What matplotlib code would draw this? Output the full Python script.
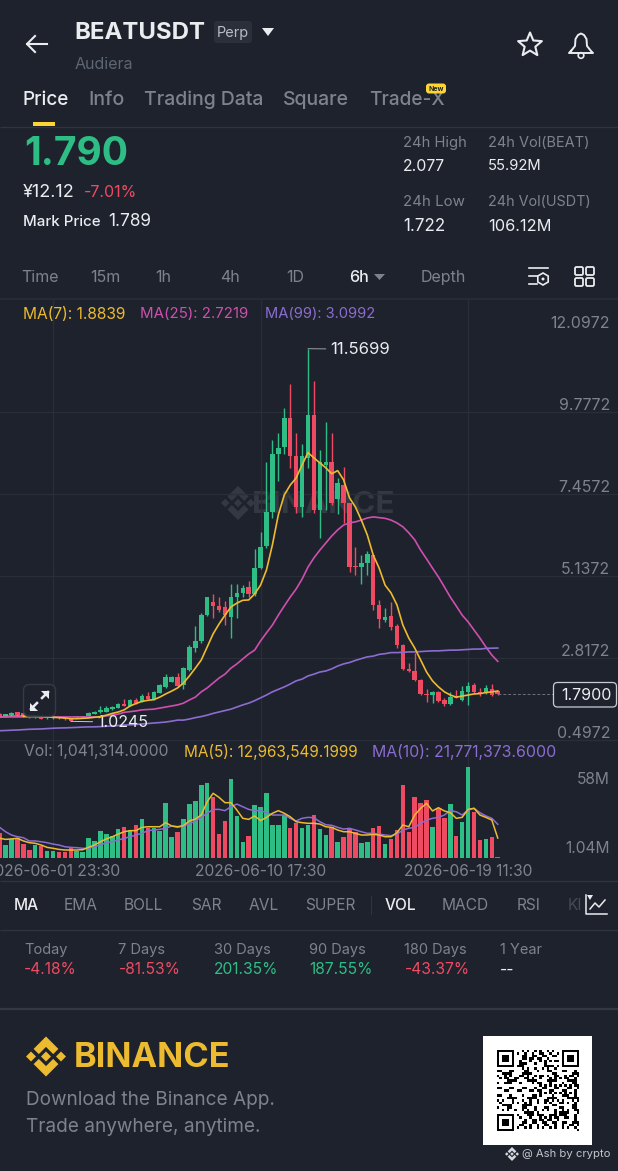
import numpy as np
import matplotlib
matplotlib.use("Agg")
import matplotlib.pyplot as plt
from matplotlib.patches import Polygon, Rectangle, FancyBboxPatch, Circle
from matplotlib.ticker import FixedLocator, NullFormatter

plt.rcParams['font.family'] = ['Inter', 'Roboto', 'DejaVu Sans']

# ---------- data (6h candles; index 0 = 2026-06-01 23:30) ----------
candle_index = list(range(-9, 76))
opens = [1.23,1.18,1.20,1.28,1.25,1.17,1.15,1.14,1.12,1.12,1.14,1.13,1.09,1.14,1.15,1.18,1.23,1.28,1.30,1.37,
         1.41,1.52,1.47,1.63,1.60,1.74,1.65,1.84,2.01,2.15,2.27,2.05,2.48,3.09,3.31,4.03,4.39,4.29,4.27,3.99,
         4.54,4.65,4.83,4.63,5.37,5.98,6.96,8.59,8.78,9.60,8.52,7.10,8.47,9.69,7.01,8.28,8.37,7.31,7.71,7.21,
         5.42,5.40,5.50,5.73,4.32,3.89,4.00,3.73,3.19,2.51,2.46,2.20,1.79,1.76,1.86,1.63,1.52,1.74,1.63,1.85,
         2.05,1.86,1.85,1.93,1.88]
closes = [1.19,1.22,1.27,1.20,1.18,1.14,1.18,1.10,1.14,1.15,1.11,1.09,1.04,1.17,1.18,1.27,1.30,1.35,1.39,1.42,
          1.51,1.47,1.63,1.54,1.74,1.65,1.86,2.05,2.27,2.29,2.03,2.53,3.12,3.31,4.03,4.54,4.29,4.18,4.03,4.54,
          4.67,4.79,4.63,5.36,5.95,6.96,8.59,8.77,9.60,8.52,7.10,8.52,9.69,7.01,8.37,8.37,7.20,7.76,7.21,5.40,
          5.38,5.50,5.75,4.32,3.91,3.99,3.70,3.19,2.51,2.45,2.20,1.79,1.76,1.86,1.61,1.52,1.71,1.69,1.88,2.03,
          1.85,1.80,1.98,1.77,1.79]
highs = [1.26,1.24,1.29,1.30,1.27,1.19,1.20,1.15,1.16,1.17,1.15,1.15,1.11,1.18,1.19,1.28,1.31,1.46,1.45,1.47,
         1.54,1.65,1.66,1.69,1.80,1.86,1.88,2.08,2.36,2.31,2.40,2.57,3.18,3.72,4.08,4.55,4.64,4.55,4.44,4.92,
         4.92,4.89,4.99,5.90,6.39,8.35,8.99,9.19,9.88,10.57,9.19,8.87,11.5699,10.65,8.70,9.50,9.18,7.90,8.23,7.21,
         5.97,5.73,5.85,5.76,4.45,4.22,4.40,3.77,3.21,2.69,2.95,2.22,1.95,1.89,1.87,1.68,1.86,1.91,2.02,2.14,
         2.11,1.96,2.05,2.07,1.92]
lows = [1.17,1.16,1.19,1.19,1.16,1.12,1.13,1.08,1.10,1.10,1.09,1.07,1.0245,1.12,1.13,1.17,1.22,1.27,1.29,1.35,
        1.40,1.46,1.45,1.52,1.58,1.63,1.63,1.82,1.97,2.14,1.99,1.93,2.46,3.00,3.25,4.01,3.95,4.13,3.75,3.38,
        3.95,4.55,4.54,4.58,5.34,5.94,6.77,7.84,8.59,8.19,6.91,6.81,8.19,6.91,6.21,7.01,7.15,6.88,6.64,5.26,
        5.17,4.90,5.16,4.18,3.66,3.85,3.62,3.09,2.49,2.43,2.18,1.77,1.58,1.55,1.58,1.46,1.49,1.68,1.61,1.49,
        1.82,1.74,1.80,1.75,1.77]
ma7 = [1.15,1.16,1.17,1.17,1.17,1.17,1.17,1.16,1.15,1.14,1.13,1.12,1.10,1.10,1.11,1.12,1.14,1.16,1.20,1.25,
       1.29,1.35,1.46,1.53,1.59,1.62,1.64,1.71,1.80,1.88,1.97,2.11,2.31,2.53,2.76,3.13,3.50,3.78,4.03,4.26,
       4.37,4.45,4.46,4.63,4.88,5.31,6.02,6.87,7.43,7.71,7.91,8.28,8.63,8.48,8.34,8.20,8.03,8.12,7.86,7.35,
       7.09,6.72,6.30,5.73,5.36,4.88,4.66,4.32,3.75,3.38,3.10,2.76,2.42,2.17,2.00,1.86,1.77,1.71,1.74,1.77,
       1.80,1.81,1.84,1.86,1.8839]
ma25 = [1.15,1.15,1.15,1.15,1.15,1.15,1.15,1.15,1.15,1.15,1.15,1.15,1.15,1.15,1.15,1.15,1.15,1.15,1.18,1.20,
        1.23,1.28,1.30,1.32,1.35,1.36,1.37,1.40,1.43,1.46,1.49,1.54,1.63,1.71,1.86,1.97,2.11,2.25,2.36,2.53,
        2.65,2.79,2.93,3.04,3.30,3.53,3.75,4.03,4.29,4.54,4.77,5.05,5.39,5.65,5.87,6.07,6.27,6.44,6.58,6.64,
        6.67,6.72,6.78,6.81,6.79,6.77,6.72,6.64,6.53,6.36,6.16,5.87,5.62,5.36,5.11,4.83,4.54,4.29,4.03,3.84,
        3.61,3.38,3.13,2.90,2.7219]
ma99 = [0.76,0.766,0.774,0.78,0.79,0.80,0.805,0.81,0.82,0.83,0.837,0.84,0.848,0.854,0.862,0.868,0.87,0.876,0.887,0.893,
        0.907,0.92,0.927,0.936,0.95,0.964,0.978,0.99,1.006,1.03,1.06,1.06,1.09,1.13,1.16,1.20,1.25,1.29,1.33,1.37,
        1.43,1.49,1.54,1.61,1.69,1.77,1.86,1.93,2.00,2.08,2.17,2.22,2.31,2.36,2.42,2.45,2.51,2.59,2.65,2.69,
        2.75,2.80,2.85,2.87,2.92,2.94,2.97,2.97,2.98,2.99,2.99,3.00,3.01,3.02,3.02,3.03,3.04,3.04,3.05,3.06,
        3.07,3.07,3.09,3.095,3.0992]
volumes = [16.0,8.5,12.1,12.8,9.1,5.3,8.5,7.9,4.9,4.9,4.0,4.0,6.4,4.7,4.2,12.8,11.3,17.5,15.5,14.3,
           18.5,20.2,18.1,21.3,24.9,19.2,19.2,17.2,35.2,13.4,16.8,24.9,34.7,36.4,47.1,48.4,39.4,15.5,23.7,50.5,
           27.1,10.4,14.3,33.9,32.6,41.6,21.3,21.1,27.7,19.6,22.4,19.4,21.1,27.7,18.5,14.9,19.8,10.4,13.8,18.5,
           17.0,10.0,10.6,19.2,20.7,9.4,12.3,18.1,46.9,17.0,39.0,35.6,37.3,20.2,32.0,25.6,34.7,14.3,23.4,58.2,
           29.6,11.7,12.1,13.4,1.04]
vol_ma5 = [12.8,12.1,12.4,12.8,11.1,10.0,9.6,8.5,7.0,6.4,5.7,5.3,5.3,5.3,5.5,7.0,8.5,10.6,12.4,13.8,
           15.5,17.0,17.7,17.7,19.8,20.2,20.2,20.2,22.8,20.7,20.2,20.9,23.9,25.1,27.7,36.2,41.6,39.0,35.6,35.6,
           30.9,25.6,24.9,27.1,24.1,26.2,28.8,30.5,28.8,26.6,23.4,22.8,22.4,22.4,21.9,20.2,19.8,18.1,17.0,17.0,
           15.9,14.9,14.9,15.3,14.9,13.8,13.8,16.4,21.3,20.2,27.7,32.0,35.2,30.3,32.4,30.3,29.2,25.6,26.2,31.3,
           32.0,27.7,26.2,24.5,12.96]
vol_ma10 = [19.8,17.0,14.9,13.8,13.2,11.1,11.1,10.6,10.0,9.1,8.5,7.4,7.0,6.8,6.4,6.4,7.4,8.5,10.0,10.6,
            11.7,12.8,13.8,14.9,16.0,17.7,18.1,18.5,19.2,20.7,19.8,20.7,22.0,23.9,26.2,28.8,31.3,31.3,30.5,33.0,
            34.7,33.0,31.3,30.5,30.5,29.2,27.7,27.7,27.7,25.6,23.9,25.6,26.2,26.0,23.4,21.5,21.1,19.8,18.7,19.2,
            18.1,17.0,16.0,16.0,15.5,14.9,14.5,15.5,18.1,19.2,19.8,22.4,24.5,25.6,26.2,27.7,30.5,29.8,27.7,30.9,
            32.0,29.2,27.1,25.6,21.77]
price_ticks = [12.0972, 9.7772, 7.4572, 5.1372, 2.8172, 0.4972]
date_ticks = [0, 35, 70]
date_labels = ['2026-06-01 23:30', '2026-06-10 17:30', '2026-06-19 11:30']
last_price = 1.79
peak_price = 11.5699
low_price = 1.0245
low_index = 3
peak_index = 43
interval_labels = ['Time', '15m', '1h', '4h', '1D', '6h', 'Depth']
indicator_labels = ['MA', 'EMA', 'BOLL', 'SAR', 'AVL', 'SUPER', 'VOL', 'MACD', 'RSI', 'KI']
period_labels = ['Today', '7 Days', '30 Days', '90 Days', '180 Days', '1 Year']
period_values = ['-4.18%', '-81.53%', '201.35%', '187.55%', '-43.37%', '--']

# ---------- styling ----------
W, H = 618, 1171
BG = '#1E222D'
GRID = '#2a2e39'
SEP = '#2f343e'
GREEN = '#2EBD85'
RED = '#EE4B62'
GRAY = '#7d838d'
WHITE = '#eaecef'
YEL = '#EDBB2F'
MAG = '#CF4FAE'
PUR = '#8C6CD0'

fig = plt.figure(figsize=(W / 100, H / 100), dpi=100, facecolor=BG)


def axes_px(x0, y0, x1, y1, **kw):
    return fig.add_axes([x0 / W, 1 - y1 / H, (x1 - x0) / W, (y1 - y0) / H], **kw)


def pixel_axes(z):
    a = axes_px(0, 0, W, H, zorder=z)
    a.set_xlim(0, W)
    a.set_ylim(H, 0)
    a.axis('off')
    a.patch.set_alpha(0)
    return a


bg = pixel_axes(0)
ui = pixel_axes(5)

X_PER = 5.93
X0 = 53.0
xlim = (-X0 / X_PER, (W - X0) / X_PER)
PX_PER_UNIT = 35.34


def setup(a):
    a.patch.set_alpha(0)
    a.set_xlim(*xlim)
    for s in a.spines.values():
        s.set_visible(False)
    a.tick_params(length=0, labelbottom=False, labelleft=False)
    a.xaxis.set_major_locator(FixedLocator(date_ticks))
    a.xaxis.set_major_formatter(NullFormatter())
    a.grid(axis='x', color=GRID, lw=0.9)
    a.set_axisbelow(True)


# ---------- price panel ----------
ax = axes_px(0, 300, W, 752, zorder=2)
setup(ax)
ax.set_ylim(0.4972 - 12 / PX_PER_UNIT, 0.4972 + 440 / PX_PER_UNIT)
ax.yaxis.set_major_locator(FixedLocator(price_ticks[1:]))
ax.yaxis.set_major_formatter(NullFormatter())
ax.grid(axis='y', color=GRID, lw=0.9)

x = np.array(candle_index)
o, c, h, l = map(np.array, (opens, closes, highs, lows))
col = [GREEN if ci >= oi else RED for oi, ci in zip(o, c)]
ax.vlines(x, l, h, colors=col, lw=1.0, zorder=2)
ax.bar(x, np.maximum(np.abs(c - o), 0.03), bottom=np.minimum(o, c), width=0.76, color=col, zorder=2, linewidth=0)
ax.plot(x[4:], np.array(ma7)[4:], color=YEL, lw=1.2, zorder=4)
ax.plot(x[:5], np.array(ma7)[:5], color=YEL, lw=1.2, zorder=3)
ax.plot(x, ma25, color=MAG, lw=1.2, zorder=3)
ax.plot(x, ma99, color=PUR, lw=1.2, zorder=3)
ax.plot([x[-1], (553 - X0) / X_PER], [last_price, last_price], color='#6b707a', lw=0.7, ls=(0, (3, 2)), zorder=3)

for t in price_ticks:
    ax.annotate(f'{t:.4f}', xy=(1, t), xycoords=('axes fraction', 'data'), xytext=(-8 * 0.72, 7 * 0.72),
                textcoords='offset points', ha='right', va='center', color=GRAY, fontsize=11.4)
ax.annotate(f'{peak_price:.4f}', xy=(peak_index, peak_price), xytext=(22 * 0.72, -0.4), textcoords='offset points',
            ha='left', va='center', color=WHITE, fontsize=12.0,
            arrowprops=dict(arrowstyle='-', color='#9aa0a8', lw=0.7, shrinkA=1, shrinkB=0))
ax.annotate(f'{low_price:.4f}', xy=(low_index, low_price), xytext=(26 * 0.72, -0.6), textcoords='offset points',
            ha='left', va='center', color=WHITE, fontsize=11.5,
            arrowprops=dict(arrowstyle='-', color='#c5c8cc', lw=0.7, shrinkA=1, shrinkB=0))

# ---------- volume panel ----------
PX_M = 0.64
vax = axes_px(0, 752, W, 858.3, zorder=2)
setup(vax)
vax.set_ylim(0, (858.3 - 752) * PX_M)
vax.set_yticks([])
vax.bar(x, volumes, width=0.76, color=col, zorder=2, linewidth=0)
vax.plot(x, vol_ma10, color=PUR, lw=1.1, zorder=3)
vax.plot(x, vol_ma5, color=YEL, lw=1.1, zorder=4)
vax.annotate('58M', xy=(1, 58), xycoords=('axes fraction', 'data'), xytext=(-8 * 0.72, -11.5 * 0.72),
             textcoords='offset points', ha='right', va='center', color=GRAY, fontsize=11.2)
vax.annotate('1.04M', xy=(1, 1.04), xycoords=('axes fraction', 'data'), xytext=(-8 * 0.72, 8 * 0.72),
             textcoords='offset points', ha='right', va='center', color=GRAY, fontsize=11.2)
for t, lab in zip(date_ticks, date_labels):
    vax.annotate(lab, xy=(t, 0), xycoords='data', xytext=(0, -13 * 0.72), textcoords='offset points',
                 ha='center', va='center', color=GRAY, fontsize=11.2, annotation_clip=False)


# ---------- text helpers ----------
def T(xp, yp, s, px, color=GRAY, weight='normal', ha='left', zorder=6, **kw):
    return ui.text(xp, yp + 2.8, s, fontsize=px * 0.72, color=color, fontweight=weight, ha=ha, va='center', zorder=zorder, **kw)


def sep(yp, color=SEP, lw=0.9):
    bg.plot([0, W], [yp, yp], color=color, lw=lw, solid_capstyle='butt')


def logo(a, cx, cy, r, color, z=6):
    cen = [(0, -.25), (.25, 0), (0, .25), (-.25, 0)]
    a.add_patch(Polygon([(cx + p * r, cy + q * r) for p, q in cen], color=color, lw=0, zorder=z))
    for dx in (-.75, .75):
        a.add_patch(Polygon([(cx + (p + dx) * r, cy + q * r) for p, q in cen], color=color, lw=0, zorder=z))
    for sgn in (-1, 1):
        pts = [(0, 1), (.62, .38), (.36, .12), (0, .48), (-.36, .12), (-.62, .38)]
        a.add_patch(Polygon([(cx + p * r, cy + sgn * q * r) for p, q in pts], color=color, lw=0, zorder=z))


# ---------- header ----------
sep(126.5)
sep(298.5, '#2a2e39', 1.2)
sep(881)
sep(930)
sep(1008.7, '#343842', 1.6)

ui.plot([27, 46.5], [44, 44], color=WHITE, lw=1.5)
ui.plot([35, 27, 35], [36, 44, 52], color=WHITE, lw=1.5)
T(74.5, 30.5, 'BEATUSDT', 24, WHITE, 'bold')
ui.add_patch(FancyBboxPatch((214, 21), 38, 22, boxstyle='round,pad=0,rounding_size=3', fc='#2a2f3a', ec='none'))
T(233, 30.5, 'Perp', 14.5, '#b7bdc6', ha='center')
ui.add_patch(Polygon([(262, 28), (274, 28), (268, 36)], color=WHITE, lw=0))
T(75, 62, 'Audiera', 16, '#5e6673')

ang = np.deg2rad(np.arange(0, 360, 36) - 90)
rad = np.where(np.arange(10) % 2 == 0, 12.5, 5.6)
ui.add_patch(Polygon(np.c_[530 + rad * np.cos(ang), 45 + rad * np.sin(ang)], fc='none', ec=WHITE, lw=1.5, joinstyle='round'))
bx = [571, 575, 575.5, 578, 581, 584, 586.5, 587, 591, 593, 569, 571]
by = [51, 46, 39, 35, 33.5, 35, 39, 46, 51, 53, 53, 51]
ui.plot(bx, by, color=WHITE, lw=1.4, solid_joinstyle='round')
ui.add_patch(Circle((581, 55.5), 2.8, fc='none', ec=WHITE, lw=1.2))

T(22.5, 97, 'Price', 19, WHITE, 'medium')
for xp, s, px in zip([88, 144, 283.4, 369], ['Info', 'Trading Data', 'Square', 'Trade-X'], [19.5, 19.4, 19.5, 19]):
    T(xp, 97, s, px, GRAY, 'medium')
ui.add_patch(FancyBboxPatch((426, 83.5), 20, 10, boxstyle='round,pad=0,rounding_size=3', fc='#FCD535', ec='none', zorder=7))
ui.text(436, 89, 'New', fontsize=5, color='#1e2329', fontweight='bold', ha='center', va='center', zorder=8)
ui.add_patch(Rectangle((33, 122), 22, 4, color='#FCD535', lw=0))

T(24, 152, '1.790', 39, GREEN, 'bold')
T(23, 190, '¥12.12', 18, WHITE)
T(84, 190, '-7.01%', 16, RED)
T(23, 219, 'Mark Price', 15, WHITE, 'medium')
T(108, 219, '1.789', 17.2, WHITE)
T(403, 140, '24h High', 14.8, GRAY)
T(403, 163.5, '2.077', 15.8, WHITE)
T(487.6, 140, '24h Vol(BEAT)', 14.5, GRAY)
T(487.6, 163.5, '55.92M', 14.8, WHITE)
T(403, 199.5, '24h Low', 15, GRAY)
T(403.5, 223.5, '1.722', 17, WHITE)
T(487.6, 199.5, '24h Vol(USDT)', 14.4, GRAY)
T(488, 223.5, '106.12M', 16.4, WHITE)

for xp, s in zip([21.5, 90, 155.7, 220, 285.8, 349, 421], interval_labels):
    if s == '6h':
        T(xp, 274.5, s, 16, WHITE, 'medium')
    else:
        T(xp, 274.5, s, 16, GRAY)
ui.add_patch(Polygon([(374, 274), (385, 274), (379.5, 280)], color=GRAY, lw=0))
ui.plot([529, 548], [268, 268], color=WHITE, lw=1.2)
ui.plot([529, 537], [276, 276], color=WHITE, lw=1.2)
ui.plot([529, 537], [284, 284], color=WHITE, lw=1.2)
hex_a = np.deg2rad(np.arange(30, 390, 60))
ui.add_patch(Polygon(np.c_[543 + 6 * np.cos(hex_a), 279 + 6 * np.sin(hex_a)], fc='none', ec=WHITE, lw=1.2))
ui.add_patch(Circle((543, 279), 1.5, fc=WHITE, ec='none'))
for xx in (575, 586):
    for yy in (267, 278):
        ui.add_patch(FancyBboxPatch((xx, yy), 8, 8, boxstyle='round,pad=0,rounding_size=1.5', fc='none', ec=WHITE, lw=1.3))

# ---------- legends ----------
T(23, 311.5, 'MA(7): 1.8839', 15.5, YEL)
T(140, 311.5, 'MA(25): 2.7219', 15, MAG)
T(265, 311.5, 'MA(99): 3.0992', 14.7, PUR)
T(24, 749, 'Vol: 1,041,314.0000', 15.7, GRAY)
T(184, 749, 'MA(5): 12,963,549.1999', 15.3, YEL)
T(372, 749, 'MA(10): 21,771,373.6000', 15.8, PUR)

# ---------- price tag, expand button ----------
ui.add_patch(FancyBboxPatch((553.5, 682.5), 63, 24.5, boxstyle='round,pad=0,rounding_size=4', fc=BG, ec='#c9ccd1', lw=0.9))
T(586, 692.5, '1.7900', 16, WHITE, ha='center')
ui.add_patch(FancyBboxPatch((23.5, 684.5), 32, 32, boxstyle='round,pad=0,rounding_size=6', fc=BG, ec='#3a3f4a', lw=1, alpha=0.85))
ui.plot([31, 37], [709, 703], color=WHITE, lw=1.8)
ui.plot([42, 48], [698, 692], color=WHITE, lw=1.8)
ui.add_patch(Polygon([(30, 711), (30, 703), (38, 711)], color=WHITE, lw=0))
ui.add_patch(Polygon([(49, 691), (41, 691), (49, 699)], color=WHITE, lw=0))

# ---------- watermark ----------
logo(bg, 238, 503, 17, '#343841', 1)
bg.text(252, 505, 'BINANCE', fontsize=22.6, fontweight='bold', color='#343841', va='center', ha='left', zorder=1)

# ---------- indicator row ----------
for xp, s in zip([13.4, 64, 124, 191, 249, 304.7, 384.7, 442, 517, 568], indicator_labels):
    if s in ('MA', 'VOL'):
        T(xp, 903, s, 15.5, WHITE, 'medium')
    elif s == 'KI':
        T(xp, 903, s, 15.5, '#454a54')
    else:
        T(xp, 903, s, 15.5, GRAY)
ui.plot([370.5, 370.5], [896, 914], color=SEP, lw=0.8)
ui.plot([586, 586, 607], [895, 914, 914], color=WHITE, lw=1.1)
ui.plot([590, 595, 599, 605], [909, 903, 907, 900], color=WHITE, lw=1.1)
ui.add_patch(Polygon([(587, 895), (593, 895), (590, 900)], color=WHITE, lw=0))

# ---------- period returns ----------
for xp, lab, val in zip([24.4, 119, 214, 309.4, 405, 500], period_labels, period_values):
    T(xp - 0.5, 947, lab, 14.6, GRAY)
    vc = WHITE if val == '--' else (RED if val.startswith('-') else GREEN)
    T(xp - 0.5, 967, val, 15.6, vc)

# ---------- footer ----------
logo(ui, 46, 1056.5, 20, YEL)
T(74, 1055, 'BINANCE', 34.3, YEL, 'bold')
T(26, 1097.5, 'Download the Binance App.', 19, GRAY)
T(26, 1124, 'Trade anywhere, anytime.', 19, GRAY)
ui.add_patch(Rectangle((483, 1036), 109, 109, color='white', lw=0, zorder=6))
N = 33
qr = np.array([[((r * r * 3 + q * 7 + r * q + (r ^ q)) % 5) < 2 for q in range(N)] for r in range(N)])


def finder(r0, q0):
    qr[max(r0 - 1, 0):r0 + 8, max(q0 - 1, 0):q0 + 8] = False
    qr[r0:r0 + 7, q0:q0 + 7] = True
    qr[r0 + 1:r0 + 6, q0 + 1:q0 + 6] = False
    qr[r0 + 2:r0 + 5, q0 + 2:q0 + 5] = True


finder(0, 0)
finder(0, N - 7)
finder(N - 7, 0)
ui.imshow(~qr, cmap='gray', vmin=0, vmax=1, extent=(496.6, 578.6, 1130.7, 1050), interpolation='nearest', aspect='auto', zorder=7)
ui.set_xlim(0, W)
ui.set_ylim(H, 0)
logo(ui, 512, 1154, 7, '#d5d7da')
T(522, 1151.5, '@ Ash by crypto', 11.3, '#c3c6cb')

fig.savefig('out.png', dpi=100, facecolor=BG)
